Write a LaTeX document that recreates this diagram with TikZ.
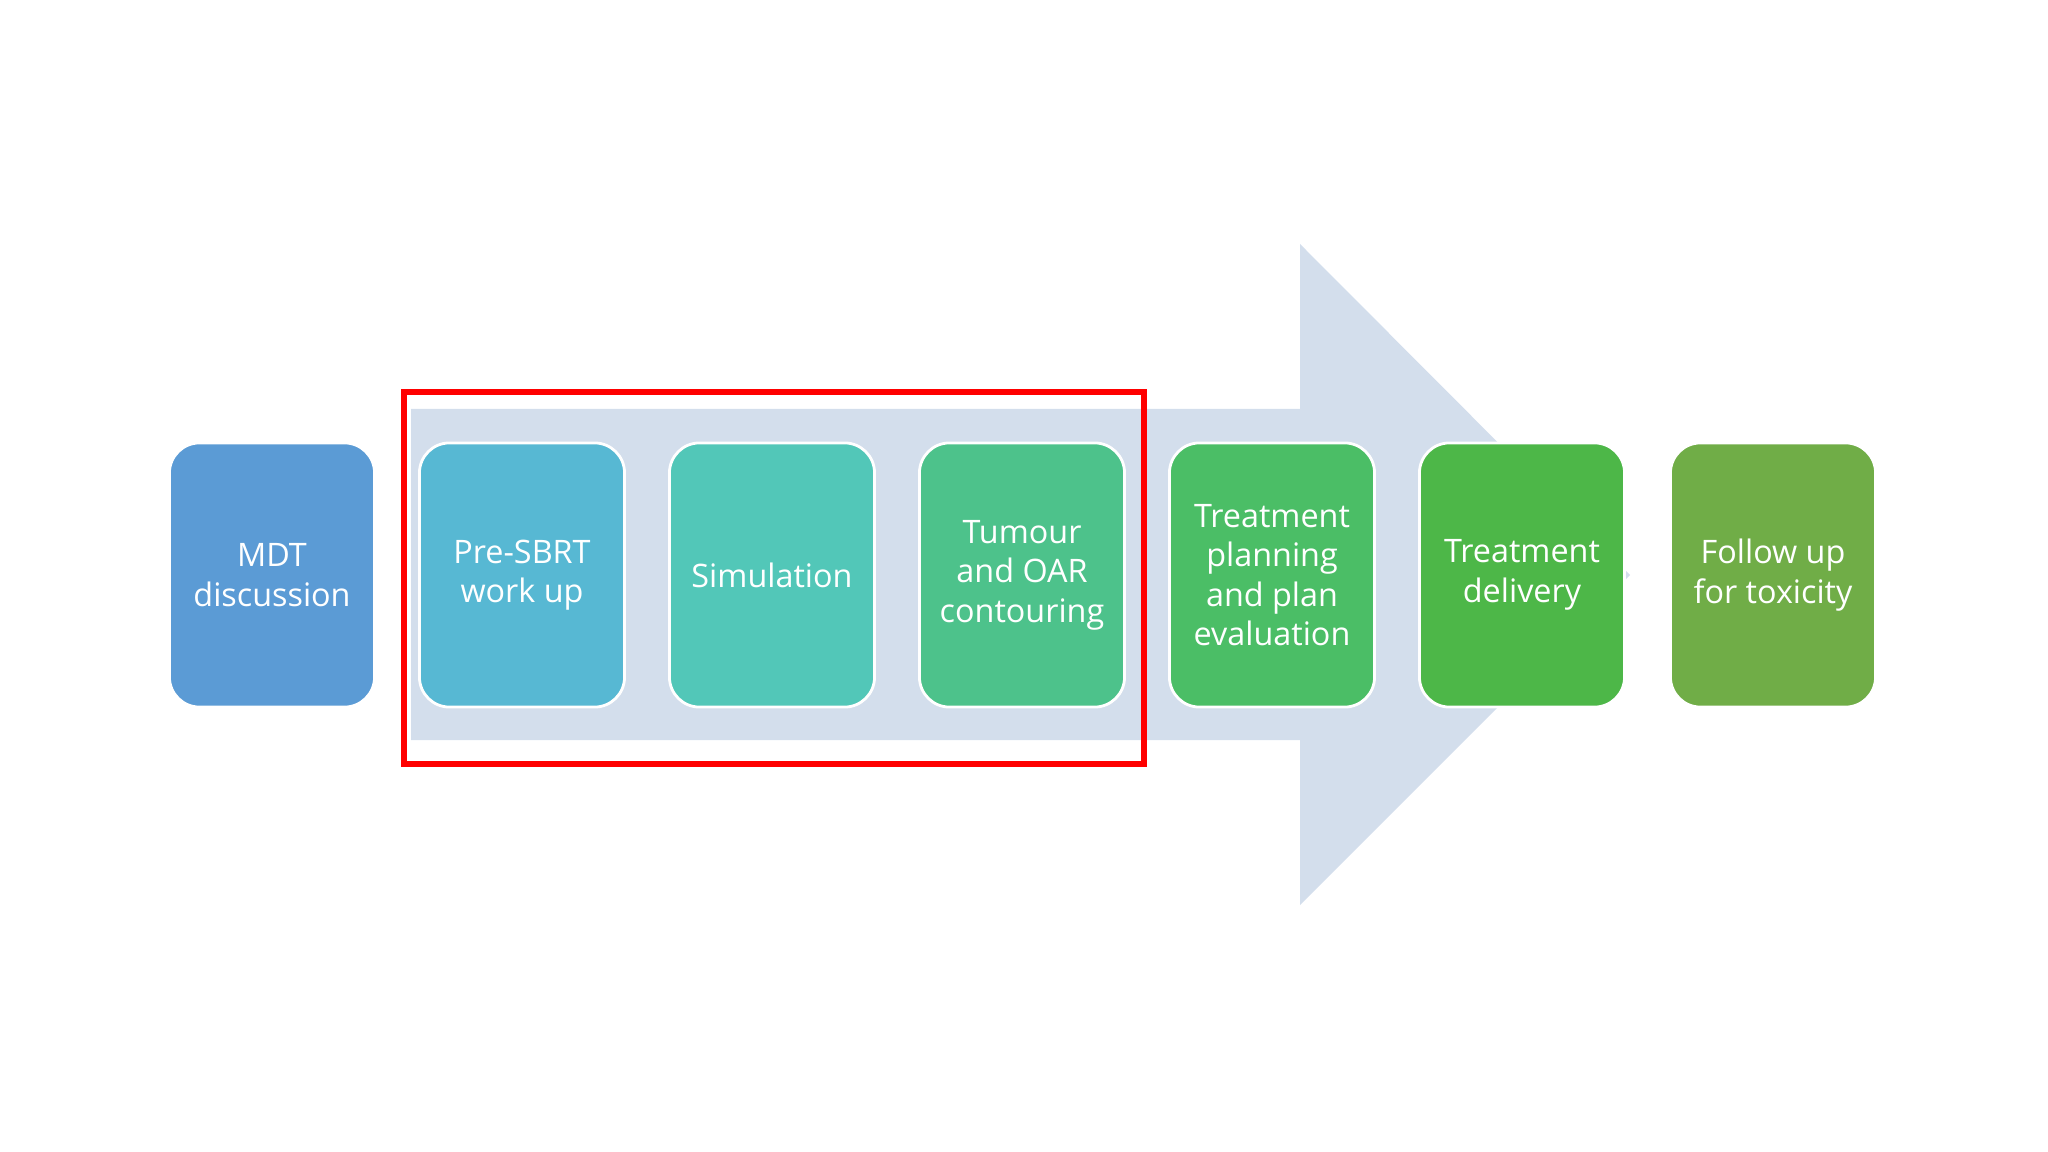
\documentclass[tikz,border=0pt]{standalone}
\usepackage{fontspec}
\setmainfont{Open Sans}
\definecolor{c1}{HTML}{5B9BD5}
\definecolor{c2}{HTML}{57B8D3}
\definecolor{c3}{HTML}{52C7B8}
\definecolor{c4}{HTML}{4DC28B}
\definecolor{c5}{HTML}{4BBE66}
\definecolor{c6}{HTML}{4DB748}
\definecolor{c7}{HTML}{70AD47}
\definecolor{arr}{HTML}{D3DEEC}
\begin{document}
\begin{tikzpicture}[x=0.01cm,y=-0.01cm,
  stepbox/.style={draw=white,line width=0.8pt,rounded corners=0.3cm,minimum width=2.05cm,minimum height=2.64cm,text=white,align=center,font=\fontsize{9.2}{11.2}\selectfont,inner sep=0pt}]
\useasboundingbox (0,0) rectangle (2048,1152);
\fill[arr] (411,409) -- (1300,409) -- (1300,244) -- (1630,575) -- (1300,905) -- (1300,740) -- (411,740) -- cycle;
\node[stepbox,fill=c1] (a) at (272,575) {MDT\\discussion};
\node[stepbox,fill=c2] (b) at (522,575) {Pre-SBRT\\work up};
\node[stepbox,fill=c3] (c) at (772,575) {Simulation};
\node[stepbox,fill=c4] (d) at (1022,575) {Tumour\\and OAR\\contouring};
\node[stepbox,fill=c5] (e) at (1272,575) {Treatment\\planning\\and plan\\evaluation};
\node[stepbox,fill=c6] (f) at (1522,575) {Treatment\\delivery};
\node[stepbox,fill=c7] (g) at (1773,575) {Follow up\\for toxicity};
\draw[red,line width=1.8pt] (404,392) rectangle (1144,764);
\end{tikzpicture}
\end{document}
